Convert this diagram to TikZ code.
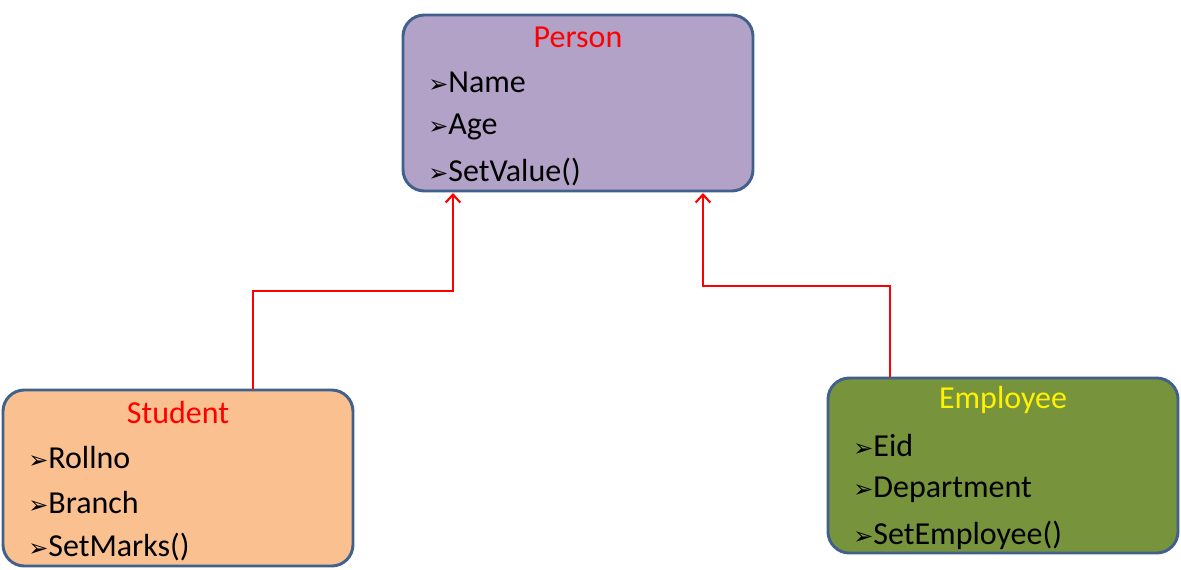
\documentclass[tikz,border=0pt]{standalone}
\usepackage{fontspec}
\setmainfont{Carlito}
\newfontfamily\symf{DejaVu Sans}
\usetikzlibrary{arrows.meta}
\definecolor{bord}{HTML}{41618C}
\definecolor{pfill}{HTML}{B3A2C7}
\definecolor{sfill}{HTML}{FAC090}
\definecolor{efill}{HTML}{77933C}
\tikzset{
 cls/.style={draw=bord,line width=2.2pt,rounded corners=16pt},
 ttl/.style={font=\fontsize{24}{28}\selectfont,anchor=center},
 itm/.style={font=\fontsize{24}{28}\selectfont,anchor=west,inner sep=0pt},
 inh/.style={red,line width=1.6pt,-{Straight Barb[length=6pt,width=11pt]}}
}
\newcommand{\bl}{{\symf\fontsize{18}{20}\selectfont ➢}}
\begin{document}
\begin{tikzpicture}[x=0.75pt,y=-0.75pt]
\useasboundingbox (0,0) rectangle (1181,569);
\draw[cls,fill=pfill] (403,15) rectangle (753,191);
\draw[cls,fill=sfill] (3,390) rectangle (353,566);
\draw[cls,fill=efill] (828,378) rectangle (1178,553);
\node[ttl,text=red] (pt) at (578,37) {Person};
\node[itm] (p1) at (428,82) {\bl Name};
\node[itm] (p2) at (428,127) {\bl Age};
\node[itm] (p3) at (428,172) {\bl SetValue()};
\node[ttl,text=red] (st) at (178,412) {Student};
\node[itm] (s1) at (28,457) {\bl Rollno};
\node[itm] (s2) at (28,502) {\bl Branch};
\node[itm] (s3) at (28,547) {\bl SetMarks()};
\node[ttl,text=yellow] (et) at (1003,400) {Employee};
\node[itm] (e1) at (853,445) {\bl Eid};
\node[itm] (e2) at (853,490) {\bl Department};
\node[itm] (e3) at (853,535) {\bl SetEmployee()};
\coordinate (sa) at (253,389);
\coordinate (pa) at (453,193);
\coordinate (ea) at (890,377);
\coordinate (pb) at (703,193);
\draw[inh] (sa) -- (253,291) -- (453,291) -- (pa);
\draw[inh] (ea) -- (890,286) -- (703,286) -- (pb);
\end{tikzpicture}
\end{document}
